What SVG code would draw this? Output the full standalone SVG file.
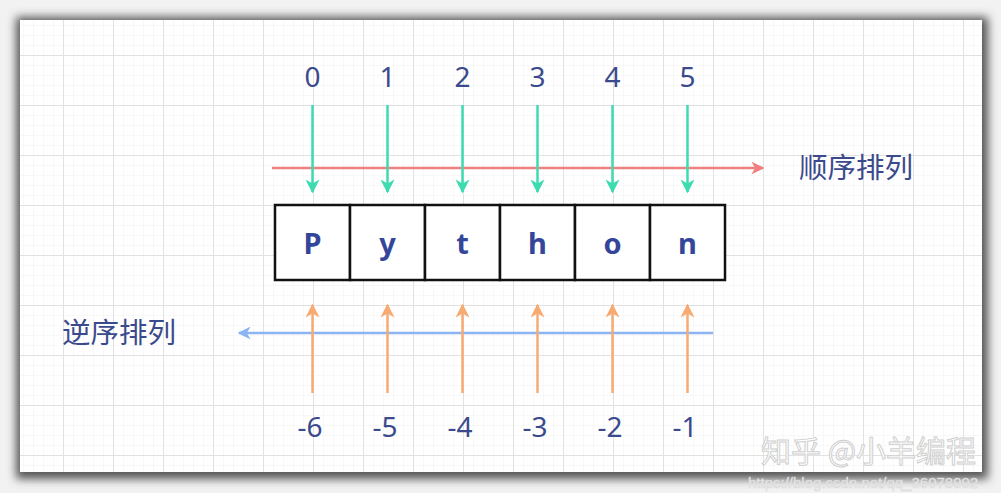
<svg xmlns="http://www.w3.org/2000/svg" width="1001" height="493" viewBox="0 0 1001 493">
  <defs>
    <pattern id="minor" x="3" y="5" width="10" height="10" patternUnits="userSpaceOnUse">
      <path d="M0 0H10M0 0V10" fill="none" stroke="#f1f1f1" stroke-width="1"/>
    </pattern>
    <pattern id="major" x="13" y="5" width="50" height="50" patternUnits="userSpaceOnUse">
      <path d="M0 0.5H50M0.5 0V50" fill="none" stroke="#e2e2e2" stroke-width="1"/>
    </pattern>
    <filter id="shadow" x="-10%" y="-10%" width="120%" height="120%">
      <feGaussianBlur stdDeviation="5"/>
    </filter>
    <marker id="ahGreen" viewBox="0 0 10 10" refX="9" refY="5" markerWidth="14" markerHeight="14" markerUnits="userSpaceOnUse" orient="auto">
      <path d="M0 0L10 5L0 10L3 5Z" fill="#3ddcb0"/>
    </marker>
    <marker id="ahRed" viewBox="0 0 10 10" refX="9" refY="5" markerWidth="13" markerHeight="13" markerUnits="userSpaceOnUse" orient="auto">
      <path d="M0 0L10 5L0 10L3 5Z" fill="#f08080"/>
    </marker>
    <marker id="ahOrange" viewBox="0 0 10 10" refX="9" refY="5" markerWidth="14" markerHeight="14" markerUnits="userSpaceOnUse" orient="auto">
      <path d="M0 0L10 5L0 10L3 5Z" fill="#f7aa72"/>
    </marker>
    <marker id="ahBlue" viewBox="0 0 10 10" refX="9" refY="5" markerWidth="13" markerHeight="13" markerUnits="userSpaceOnUse" orient="auto">
      <path d="M0 0L10 5L0 10L3 5Z" fill="#8ab4f2"/>
    </marker>
  </defs>
  <style>
    .num { font-family: "Noto Sans", "Liberation Sans", sans-serif; font-size: 28px; fill: #3b4a8c; text-anchor: middle; }
    .letter { font-family: "Noto Sans", "Liberation Sans", sans-serif; font-size: 29px; font-weight: bold; fill: #34469a; text-anchor: middle; }
    .cell { fill: #ffffff; stroke: #111111; stroke-width: 2.5; }
    .label { font-family: "Noto Sans CJK SC", sans-serif; font-size: 28.5px; fill: #3b4a8c; }
    .green { stroke: #3ddcb0; stroke-width: 2.5; fill: none; marker-end: url(#ahGreen); }
    .orange { stroke: #f7aa72; stroke-width: 2.5; fill: none; marker-end: url(#ahOrange); }
    .wm { font-family: "Noto Sans CJK SC", sans-serif; }
  </style>
  <rect width="1001" height="493" fill="#f2f2f2"/>
  <rect x="16" y="17" width="972" height="462" fill="#555" filter="url(#shadow)"/>
  <rect x="20" y="20" width="962" height="452" fill="#ffffff"/>
  <rect x="20" y="20" width="962" height="452" fill="url(#minor)"/>
  <rect x="20" y="20" width="962" height="452" fill="url(#major)"/>

  <g id="connectors">
    <line x1="272" y1="168" x2="763" y2="168" stroke="#f08080" stroke-width="2.5" marker-end="url(#ahRed)"/>
    <line x1="713" y1="333" x2="239" y2="333" stroke="#8ab4f2" stroke-width="2.5" marker-end="url(#ahBlue)"/>
    <line class="green" x1="312.5" y1="105" x2="312.5" y2="192"/>
    <line class="green" x1="387.5" y1="105" x2="387.5" y2="192"/>
    <line class="green" x1="462.5" y1="105" x2="462.5" y2="192"/>
    <line class="green" x1="537.5" y1="105" x2="537.5" y2="192"/>
    <line class="green" x1="612.5" y1="105" x2="612.5" y2="192"/>
    <line class="green" x1="687.5" y1="105" x2="687.5" y2="192"/>
    <line class="orange" x1="312.5" y1="393" x2="312.5" y2="305"/>
    <line class="orange" x1="387.5" y1="393" x2="387.5" y2="305"/>
    <line class="orange" x1="462.5" y1="393" x2="462.5" y2="305"/>
    <line class="orange" x1="537.5" y1="393" x2="537.5" y2="305"/>
    <line class="orange" x1="612.5" y1="393" x2="612.5" y2="305"/>
    <line class="orange" x1="687.5" y1="393" x2="687.5" y2="305"/>
  </g>

  <g id="cell-P"><rect class="cell" x="275" y="205" width="75" height="75"/><text class="letter" x="312.5" y="254">P</text></g>
  <g id="cell-y"><rect class="cell" x="350" y="205" width="75" height="75"/><text class="letter" x="387.5" y="254">y</text></g>
  <g id="cell-t"><rect class="cell" x="425" y="205" width="75" height="75"/><text class="letter" x="462.5" y="254">t</text></g>
  <g id="cell-h"><rect class="cell" x="500" y="205" width="75" height="75"/><text class="letter" x="537.5" y="254">h</text></g>
  <g id="cell-o"><rect class="cell" x="575" y="205" width="75" height="75"/><text class="letter" x="612.5" y="254">o</text></g>
  <g id="cell-n"><rect class="cell" x="650" y="205" width="75" height="75"/><text class="letter" x="687.5" y="254">n</text></g>

  <g id="index-positive">
    <text class="num" x="312.5" y="87">0</text>
    <text class="num" x="387.5" y="87">1</text>
    <text class="num" x="462.5" y="87">2</text>
    <text class="num" x="537.5" y="87">3</text>
    <text class="num" x="612.5" y="87">4</text>
    <text class="num" x="687.5" y="87">5</text>
  </g>
  <g id="index-negative">
    <text class="num" x="310" y="437">-6</text>
    <text class="num" x="385" y="437">-5</text>
    <text class="num" x="460" y="437">-4</text>
    <text class="num" x="535" y="437">-3</text>
    <text class="num" x="610" y="437">-2</text>
    <text class="num" x="685" y="437">-1</text>
  </g>
  <g id="label-forward"><text class="label" x="799" y="178">顺序排列</text></g>
  <g id="label-reverse"><text class="label" x="62" y="343">逆序排列</text></g>

  <g id="watermark">
    <text class="wm" x="761" y="462" font-size="30" fill="#ffffff" stroke="#cfcfcf" stroke-width="1">知乎 @小羊编程</text>
    <text x="748" y="488" font-family="Liberation Sans, sans-serif" font-size="15" fill="#ececec" stroke="#d4d4d4" stroke-width="0.4">https://blog.csdn.net/qq_36078992</text>
  </g>
</svg>
